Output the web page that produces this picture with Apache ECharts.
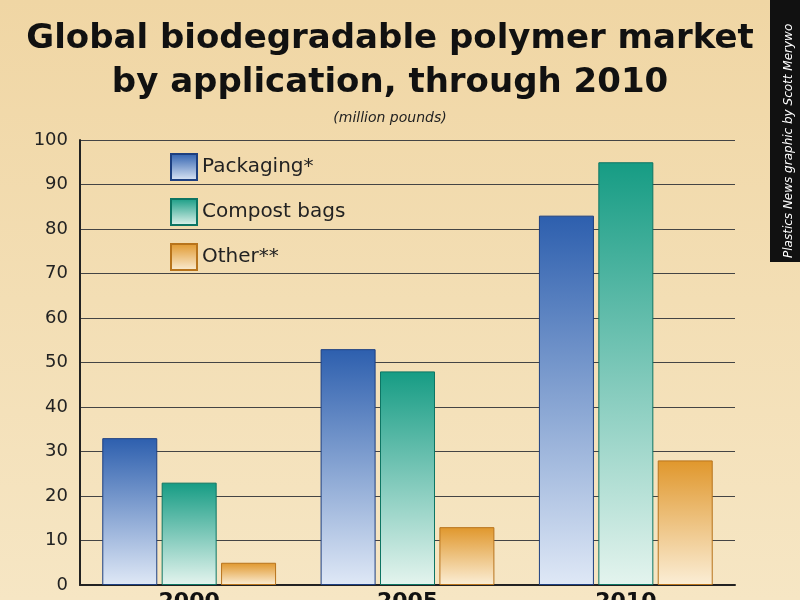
<!DOCTYPE html>
<html>
<head>
<meta charset="utf-8">
<script src="https://cdn.jsdelivr.net/npm/echarts@6/dist/echarts.min.js"></script>
<style>html,body{margin:0;padding:0;background:#f2dcae;}#chart{width:800px;height:600px;}</style>
</head>
<body>
<div id="chart"></div>
<script>
// data (million pounds)
const years = ['2000', '2005', '2010'];
const packaging = [33, 53, 83];
const compostBags = [23, 48, 95];
const other = [5, 13, 28];

function grad(top, bottom) {
    return new echarts.graphic.LinearGradient(0, 0, 0, 1, [
        {offset: 0, color: top},
        {offset: 1, color: bottom}
    ]);
}

const chart = echarts.init(document.getElementById('chart'));

chart.setOption({
    backgroundColor: grad('#f0d6a4', '#f6e6c4'),
    animation: false,
    title: {
        text: 'Global biodegradable polymer market\nby application, through 2010',
        subtext: '(million pounds)',
        left: 385, top: 12, textAlign: 'center',
        itemGap: 6,
        textStyle: {fontFamily: 'DejaVu Sans', fontWeight: 'bold', fontSize: 34, lineHeight: 44, color: '#111'},
        subtextStyle: {fontFamily: 'DejaVu Sans', fontStyle: 'italic', fontSize: 14, color: '#222'}
    },
    legend: {
        orient: 'vertical', left: 165, top: 148, icon: 'rect',
        itemWidth: 26, itemHeight: 26, itemGap: 17,
        textStyle: {fontFamily: 'DejaVu Sans', fontSize: 20, color: '#222'},
        data: ['Packaging*', 'Compost bags', 'Other**']
    },
    grid: {left: 80, right: 65, top: 140, bottom: 15, outerBoundsMode: 'none'},
    xAxis: {
        type: 'category', data: years,
        axisLine: {lineStyle: {color: '#222', width: 2}},
        axisTick: {show: false},
        axisLabel: {fontFamily: 'DejaVu Sans', fontWeight: 'bold', fontSize: 22, color: '#111', margin: 6}
    },
    yAxis: {
        type: 'value', min: 0, max: 100, interval: 10,
        axisLine: {show: true, lineStyle: {color: '#222', width: 2}},
        axisTick: {show: false},
        splitLine: {lineStyle: {color: '#444', width: 1.2}},
        axisLabel: {fontFamily: 'DejaVu Sans', fontSize: 18, color: '#222', margin: 12}
    },
    series: [
        {
            name: 'Packaging*', type: 'bar', data: packaging, barWidth: 55, barGap: '8%',
            itemStyle: {color: grad('#2d5fae', '#dfe8f6'), borderColor: '#1d3f80', borderWidth: 1}
        },
        {
            name: 'Compost bags', type: 'bar', data: compostBags, barWidth: 55,
            itemStyle: {color: grad('#169c84', '#e4f4ee'), borderColor: '#0d7563', borderWidth: 1}
        },
        {
            name: 'Other**', type: 'bar', data: other, barWidth: 55,
            itemStyle: {color: grad('#e0972c', '#fbeed6'), borderColor: '#b8741c', borderWidth: 1}
        }
    ],
    graphic: [
        {type: 'rect', left: 770, top: 0, shape: {width: 30, height: 262}, style: {fill: '#111'}},
        {
            type: 'text', x: 789, y: 258, rotation: Math.PI / 2,
            style: {text: 'Plastics News graphic by Scott Merywo', fill: '#fff', font: 'italic 12px DejaVu Sans', textAlign: 'left', textVerticalAlign: 'middle'}
        }
    ]
});
</script>
</body>
</html>
